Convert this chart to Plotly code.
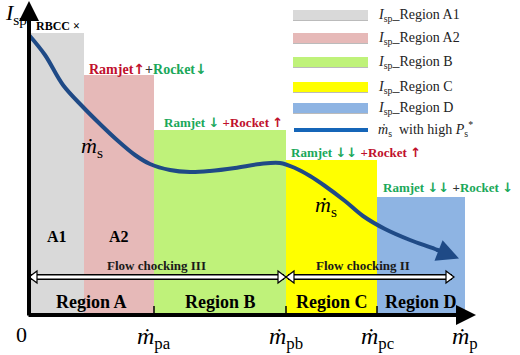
import plotly.graph_objects as go

# ---------------- data (schematic units: origin at axes corner) ----------------
region_names = ["A1", "A2", "B", "C", "D"]
region_edges = [0, 55, 125, 257, 348, 436]          # 0, (A1|A2), m_pa, m_pb, m_pc, m_p
region_isp = [282, 240, 185, 155, 118]              # Isp level of each region
region_colors = ["#d9d9d9", "#e6b9b8", "#bff27a", "#ffff00", "#8eb4e3"]

curve_x = [0, 16, 34, 54, 71, 88, 106, 121, 141, 161, 181, 206, 231, 251, 266,
           281, 296, 316, 334, 356, 381, 406, 426]
curve_y = [280, 260, 230, 208, 191, 175, 160, 151, 145, 143, 144, 147, 151, 152, 147,
           139, 129, 114, 99, 86, 75, 66, 58]

tick_labels = ["0", "<i>ṁ</i><sub>pa</sub>", "<i>ṁ</i><sub>pb</sub>",
               "<i>ṁ</i><sub>pc</sub>", "<i>ṁ</i><sub>p</sub>"]
tick_pos = [region_edges[0], region_edges[2], region_edges[3], region_edges[4], region_edges[5]]

legend_labels = ["<i>I</i><sub>sp</sub>_Region A1", "<i>I</i><sub>sp</sub>_Region A2",
                 "<i>I</i><sub>sp</sub>_Region B", "<i>I</i><sub>sp</sub>_Region C",
                 "<i>I</i><sub>sp</sub>_Region D"]
legend_line_label = "<i>ṁ</i><sub>s</sub>  with high <i>P</i><sub>s</sub><sup>*</sup>"

RED = "#c0102c"
GRN = "#1aa85a"
SERIF = "Liberation Serif, Times New Roman, serif"

# figure geometry helpers (pixel -> data), plot area spans the whole figure
W, H = 520, 355
OX, OY = 29, 315
def X(px): return px - OX
def Y(py): return OY - py

fig = go.Figure()

# region bars
centers = [(region_edges[i] + region_edges[i + 1]) / 2 for i in range(5)]
widths = [region_edges[i + 1] - region_edges[i] for i in range(5)]
fig.add_trace(go.Bar(x=centers, y=region_isp, width=widths,
                     marker=dict(color=region_colors, line=dict(width=0)),
                     showlegend=False, hoverinfo="skip"))

# curve
fig.add_trace(go.Scatter(x=curve_x, y=curve_y, mode="lines",
                         line=dict(color="#1f4a86", width=4, shape="spline", smoothing=1.0),
                         showlegend=False, hoverinfo="skip"))

shapes = []
ann = []

# curve arrow head
ann.append(dict(x=curve_x[-1] + 4, y=curve_y[-1] - 1.5, ax=curve_x[-2], ay=curve_y[-2],
                xref="x", yref="y", axref="x", ayref="y", text="", showarrow=True,
                arrowhead=2, arrowsize=1.1, arrowwidth=4, arrowcolor="#1f4a86"))

# axes with arrows
ann.append(dict(x=0, y=Y(1), ax=0, ay=-2, xref="x", yref="y", axref="x", ayref="y",
                text="", showarrow=True, arrowhead=2, arrowsize=1, arrowwidth=4, arrowcolor="black"))
ann.append(dict(x=X(476), y=0, ax=-2, ay=0, xref="x", yref="y", axref="x", ayref="y",
                text="", showarrow=True, arrowhead=2, arrowsize=1, arrowwidth=4, arrowcolor="black"))

# tick marks
for xv in region_edges[2:5]:
    shapes.append(dict(type="line", x0=xv, x1=xv, y0=0, y1=9, xref="x", yref="y",
                       line=dict(color="black", width=1.5)))

# tick labels
for i, (xv, lab) in enumerate(zip(tick_pos, tick_labels)):
    if i == 0:
        ann.append(dict(x=X(21), y=Y(334), text=lab, showarrow=False,
                        font=dict(family=SERIF, size=22, color="black")))
    else:
        ann.append(dict(x=xv, y=Y(338), text=lab, showarrow=False,
                        font=dict(family=SERIF, size=24, color="black")))

# y-axis label
ann.append(dict(x=X(3), y=Y(14), text="<i>I</i><sub>sp</sub>", showarrow=False, xanchor="left",
                font=dict(family=SERIF, size=22, color="black")))

# RBCC x
ann.append(dict(x=X(34), y=Y(26), text="<b>RBCC ×</b>", showarrow=False, xanchor="left",
                font=dict(family=SERIF, size=12, color="black")))

# ramjet / rocket notes
def note(px, py, parts, size=13):
    arw = ("<span style='font-family:DejaVu Sans;font-weight:bold;font-size:%dpx'>{}</span>" % size)
    txt = ""
    for t, c in parts:
        t = t.replace("↑", arw.format("↑")).replace("↓", arw.format("↓"))
        txt += f"<span style='color:{c}'>{t}</span>"
    ann.append(dict(x=X(px), y=Y(py), text="<b>" + txt + "</b>", showarrow=False, xanchor="left",
                    font=dict(family=SERIF, size=size)))

note(87, 69, [("Ramjet↑", RED), ("+", "#333"), ("Rocket↓", GRN)], size=14)
note(162, 122, [("Ramjet ↓ ", GRN), ("+Rocket ↑", RED)])
note(289, 152, [("Ramjet ↓↓ ", GRN), ("+Rocket ↑", RED)])
note(381, 187, [("Ramjet ↓↓ ", GRN), ("+", "#333"), ("Rocket ↓", GRN)])

# m_s labels on curve
ann.append(dict(x=X(92), y=Y(147), text="<i>ṁ</i><sub>s</sub>", showarrow=False,
                font=dict(family=SERIF, size=22, color="black")))
ann.append(dict(x=X(326), y=Y(206), text="<i>ṁ</i><sub>s</sub>", showarrow=False,
                font=dict(family=SERIF, size=22, color="black")))

# A1, A2 labels
for name, i in (("A1", 0), ("A2", 1)):
    ann.append(dict(x=centers[i], y=Y(236), text=f"<b>{name}</b>", showarrow=False,
                    font=dict(family=SERIF, size=16, color="black")))

# region labels
for i, name in enumerate(["Region A", "Region B", "Region C", "Region D"]):
    if i == 0:
        xc = (region_edges[0] + region_edges[2]) / 2
    else:
        xc = centers[i + 1]
    ann.append(dict(x=xc, y=Y(302), text=f"<b>{name}</b>", showarrow=False,
                    font=dict(family=SERIF, size=18, color="black")))

# flow chocking double arrows (hollow)
ya = Y(277)
def hollow_arrow(x0, x1):
    shapes.append(dict(type="line", x0=x0 + 2, x1=x1 - 2, y0=ya, y1=ya, xref="x", yref="y",
                       line=dict(color="black", width=6)))
    shapes.append(dict(type="line", x0=x0 + 3, x1=x1 - 3, y0=ya, y1=ya, xref="x", yref="y",
                       line=dict(color="white", width=3)))
    for tip, d in ((x0, 1), (x1, -1)):
        b = tip + d * 8
        path = f"M {tip} {ya} L {b} {ya + 6} L {b} {ya - 6} Z"
        shapes.append(dict(type="path", path=path, xref="x", yref="y",
                           fillcolor="white", line=dict(color="black", width=1.2)))

hollow_arrow(region_edges[0], region_edges[3])
hollow_arrow(region_edges[3], X(454))
ann.append(dict(x=X(156), y=Y(265), text="<b>Flow chocking III</b>", showarrow=False,
                font=dict(family=SERIF, size=13, color="#1a1a1a")))
ann.append(dict(x=X(363), y=Y(265), text="<b>Flow chocking II</b>", showarrow=False,
                font=dict(family=SERIF, size=13, color="#1a1a1a")))

# custom legend
rows = [15, 38, 62, 87, 108]
for py, col, lab in zip(rows, region_colors, legend_labels):
    shapes.append(dict(type="rect", x0=X(293), x1=X(368), y0=Y(py - 5), y1=Y(py + 5),
                       xref="x", yref="y", fillcolor=col, line=dict(width=0)))
    shapes.append(dict(type="line", x0=X(293), x1=X(368), y0=Y(py + 5.5), y1=Y(py + 5.5),
                       xref="x", yref="y", line=dict(color="#bbbbbb", width=1)))
    ann.append(dict(x=X(376), y=Y(py), text=lab, showarrow=False, xanchor="left",
                    font=dict(family=SERIF, size=14, color="#222")))
shapes.append(dict(type="line", x0=X(294), x1=X(368), y0=Y(130), y1=Y(130), xref="x", yref="y",
                   line=dict(color="#1565b8", width=4)))
ann.append(dict(x=X(376), y=Y(129), text=legend_line_label, showarrow=False, xanchor="left",
                font=dict(family=SERIF, size=14, color="#222")))

fig.update_layout(
    width=W, height=H, margin=dict(l=0, r=0, t=0, b=0),
    paper_bgcolor="white", plot_bgcolor="white",
    xaxis=dict(range=[X(0), X(W)], visible=False, fixedrange=True),
    yaxis=dict(range=[Y(H), Y(0)], visible=False, fixedrange=True),
    shapes=shapes, annotations=ann, bargap=0, showlegend=False,
)
fig.write_html("out.html", config={"displayModeBar": False},
               post_script="document.body.style.margin='0px';document.body.style.overflow='hidden';")
